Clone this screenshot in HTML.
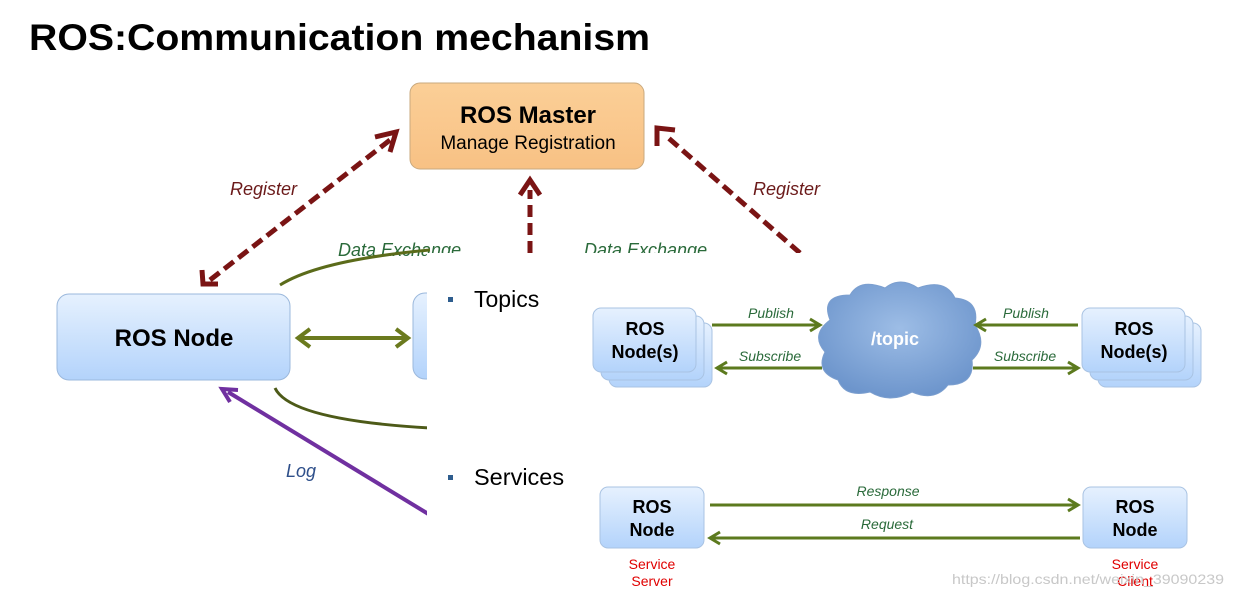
<!DOCTYPE html>
<html><head><style>
body{margin:0;background:#fff;width:1233px;height:598px;overflow:hidden;font-family:"Liberation Sans",sans-serif}
</style></head><body>
<svg width="1233" height="598" xmlns="http://www.w3.org/2000/svg" font-family="Liberation Sans, sans-serif">
<defs>
<linearGradient id="bl" x1="0" y1="0" x2="0" y2="1"><stop offset="0" stop-color="#e6f1fe"/><stop offset="1" stop-color="#b3d3fb"/></linearGradient>
<linearGradient id="or" x1="0" y1="0" x2="0" y2="1"><stop offset="0" stop-color="#fbcf97"/><stop offset="1" stop-color="#f8c184"/></linearGradient>
<radialGradient id="cl" cx="0.5" cy="0.4" r="0.6"><stop offset="0" stop-color="#9dbde6"/><stop offset="1" stop-color="#6d95cc"/></radialGradient>
</defs>
<text x="29" y="50" font-size="37" font-weight="bold" textLength="621" lengthAdjust="spacingAndGlyphs">ROS:Communication mechanism</text>
<rect x="410" y="83" width="234" height="86" rx="10" fill="url(#or)" stroke="#c9a97e"/>
<text x="528" y="123" font-size="24" font-weight="bold" text-anchor="middle">ROS Master</text>
<text x="528" y="149" font-size="19" text-anchor="middle">Manage Registration</text>
<g stroke="#7a1414" stroke-width="5" stroke-dasharray="12,6" fill="none">
<line x1="210" y1="280" x2="390" y2="140"/>
<line x1="800" y1="253" x2="665" y2="135"/>
<line x1="530" y1="253" x2="530" y2="190"/>
</g>
<g stroke="#7a1414" stroke-width="5" fill="none">
<polyline points="202,270 203,284 218,284"/>
<polyline points="375,137 396,132 390,152"/>
<polyline points="657,146 657,128 675,130"/>
<polyline points="520,195 530,180 540,195"/>
</g>
<text x="230" y="195" font-size="18" font-style="italic" fill="#6b1a1a">Register</text>
<text x="753" y="195" font-size="18" font-style="italic" fill="#6b1a1a">Register</text>
<text x="338" y="256" font-size="18" font-style="italic" fill="#2a6a3a">Data Exchange</text>
<text x="584" y="256" font-size="18" font-style="italic" fill="#2a6a3a">Data Exchange</text>
<path d="M280,285 Q320,260 430,250" stroke="#5b6b1a" stroke-width="3" fill="none"/>
<path d="M275,388 Q290,420 430,428" stroke="#4d5a18" stroke-width="3" fill="none"/>
<rect x="57" y="294" width="233" height="86" rx="12" fill="url(#bl)" stroke="#9bb8dc"/>
<text x="174" y="346" font-size="24" font-weight="bold" text-anchor="middle">ROS Node</text>
<rect x="413" y="293" width="30" height="86" rx="12" fill="url(#bl)" stroke="#9bb8dc"/>
<line x1="300" y1="338" x2="405" y2="338" stroke="#6b7a1e" stroke-width="4"/>
<polyline points="310,329 298,338 310,347" stroke="#6b7a1e" stroke-width="4" fill="none"/>
<polyline points="396,329 408,338 396,347" stroke="#6b7a1e" stroke-width="4" fill="none"/>
<line x1="228" y1="392" x2="430" y2="515" stroke="#7030a0" stroke-width="4"/>
<polyline points="238,390 222,389 230,402" stroke="#7030a0" stroke-width="4" fill="none"/>
<text x="286" y="477" font-size="18" font-style="italic" fill="#2e4f8a">Log</text>
<rect x="427" y="253" width="806" height="345" fill="#fff"/>
<rect x="448" y="297" width="5" height="5" fill="#2e5d8e"/>
<text x="474" y="307" font-size="23">Topics</text>
<rect x="448" y="475" width="5" height="5" fill="#2e5d8e"/>
<text x="474" y="485" font-size="23.5">Services</text>
<g fill="url(#bl)" stroke="#a9c3e3">
<rect x="609" y="323" width="103" height="64" rx="8"/>
<rect x="601" y="316" width="103" height="64" rx="8"/>
<rect x="593" y="308" width="103" height="64" rx="8"/>
<rect x="1098" y="323" width="103" height="64" rx="8"/>
<rect x="1090" y="316" width="103" height="64" rx="8"/>
<rect x="1082" y="308" width="103" height="64" rx="8"/>
</g>
<g font-size="18" font-weight="bold" text-anchor="middle">
<text x="645" y="335">ROS</text><text x="645" y="358">Node(s)</text>
<text x="1134" y="335">ROS</text><text x="1134" y="358">Node(s)</text>
</g>
<path d="M830,320 Q820,295 850,295 Q860,278 885,288 Q900,276 918,288 Q945,278 955,298 Q980,300 975,325 Q988,345 972,360 Q975,385 948,385 Q935,402 912,392 Q890,404 870,392 Q845,398 838,380 Q815,372 825,352 Q810,335 830,320Z" fill="url(#cl)" stroke="#7c9fcf"/>
<text x="895" y="345" font-size="18" font-weight="bold" fill="#fff" text-anchor="middle">/topic</text>
<g stroke="#5c7a1e" stroke-width="3" fill="none">
<line x1="712" y1="325" x2="818" y2="325"/><polyline points="810,319 820,325 810,331"/>
<line x1="718" y1="368" x2="822" y2="368"/><polyline points="727,362 717,368 727,374"/>
<line x1="978" y1="325" x2="1078" y2="325"/><polyline points="986,319 976,325 986,331"/>
<line x1="973" y1="368" x2="1076" y2="368"/><polyline points="1068,362 1078,368 1068,374"/>
<line x1="710" y1="505" x2="1076" y2="505"/><polyline points="1068,499 1078,505 1068,511"/>
<line x1="712" y1="538" x2="1080" y2="538"/><polyline points="720,532 710,538 720,544"/>
</g>
<g font-size="14" font-style="italic" fill="#2a6a3a" text-anchor="middle">
<text x="771" y="318">Publish</text><text x="770" y="361">Subscribe</text>
<text x="1026" y="318">Publish</text><text x="1025" y="361">Subscribe</text>
<text x="888" y="496">Response</text><text x="887" y="529">Request</text>
</g>
<rect x="600" y="487" width="104" height="61" rx="8" fill="url(#bl)" stroke="#a9c3e3"/>
<rect x="1083" y="487" width="104" height="61" rx="8" fill="url(#bl)" stroke="#a9c3e3"/>
<g font-size="18" font-weight="bold" text-anchor="middle">
<text x="652" y="513">ROS</text><text x="652" y="536">Node</text>
<text x="1135" y="513">ROS</text><text x="1135" y="536">Node</text>
</g>
<g font-size="14" fill="#e00000" text-anchor="middle">
<text x="652" y="569">Service</text><text x="652" y="586">Server</text>
<text x="1135" y="569">Service</text><text x="1135" y="586">Client</text>
</g>
<text x="952" y="584" font-size="14" fill="#c8c8c8" textLength="272" lengthAdjust="spacingAndGlyphs">https://blog.csdn.net/weixin_39090239</text>
</svg>
</body></html>
